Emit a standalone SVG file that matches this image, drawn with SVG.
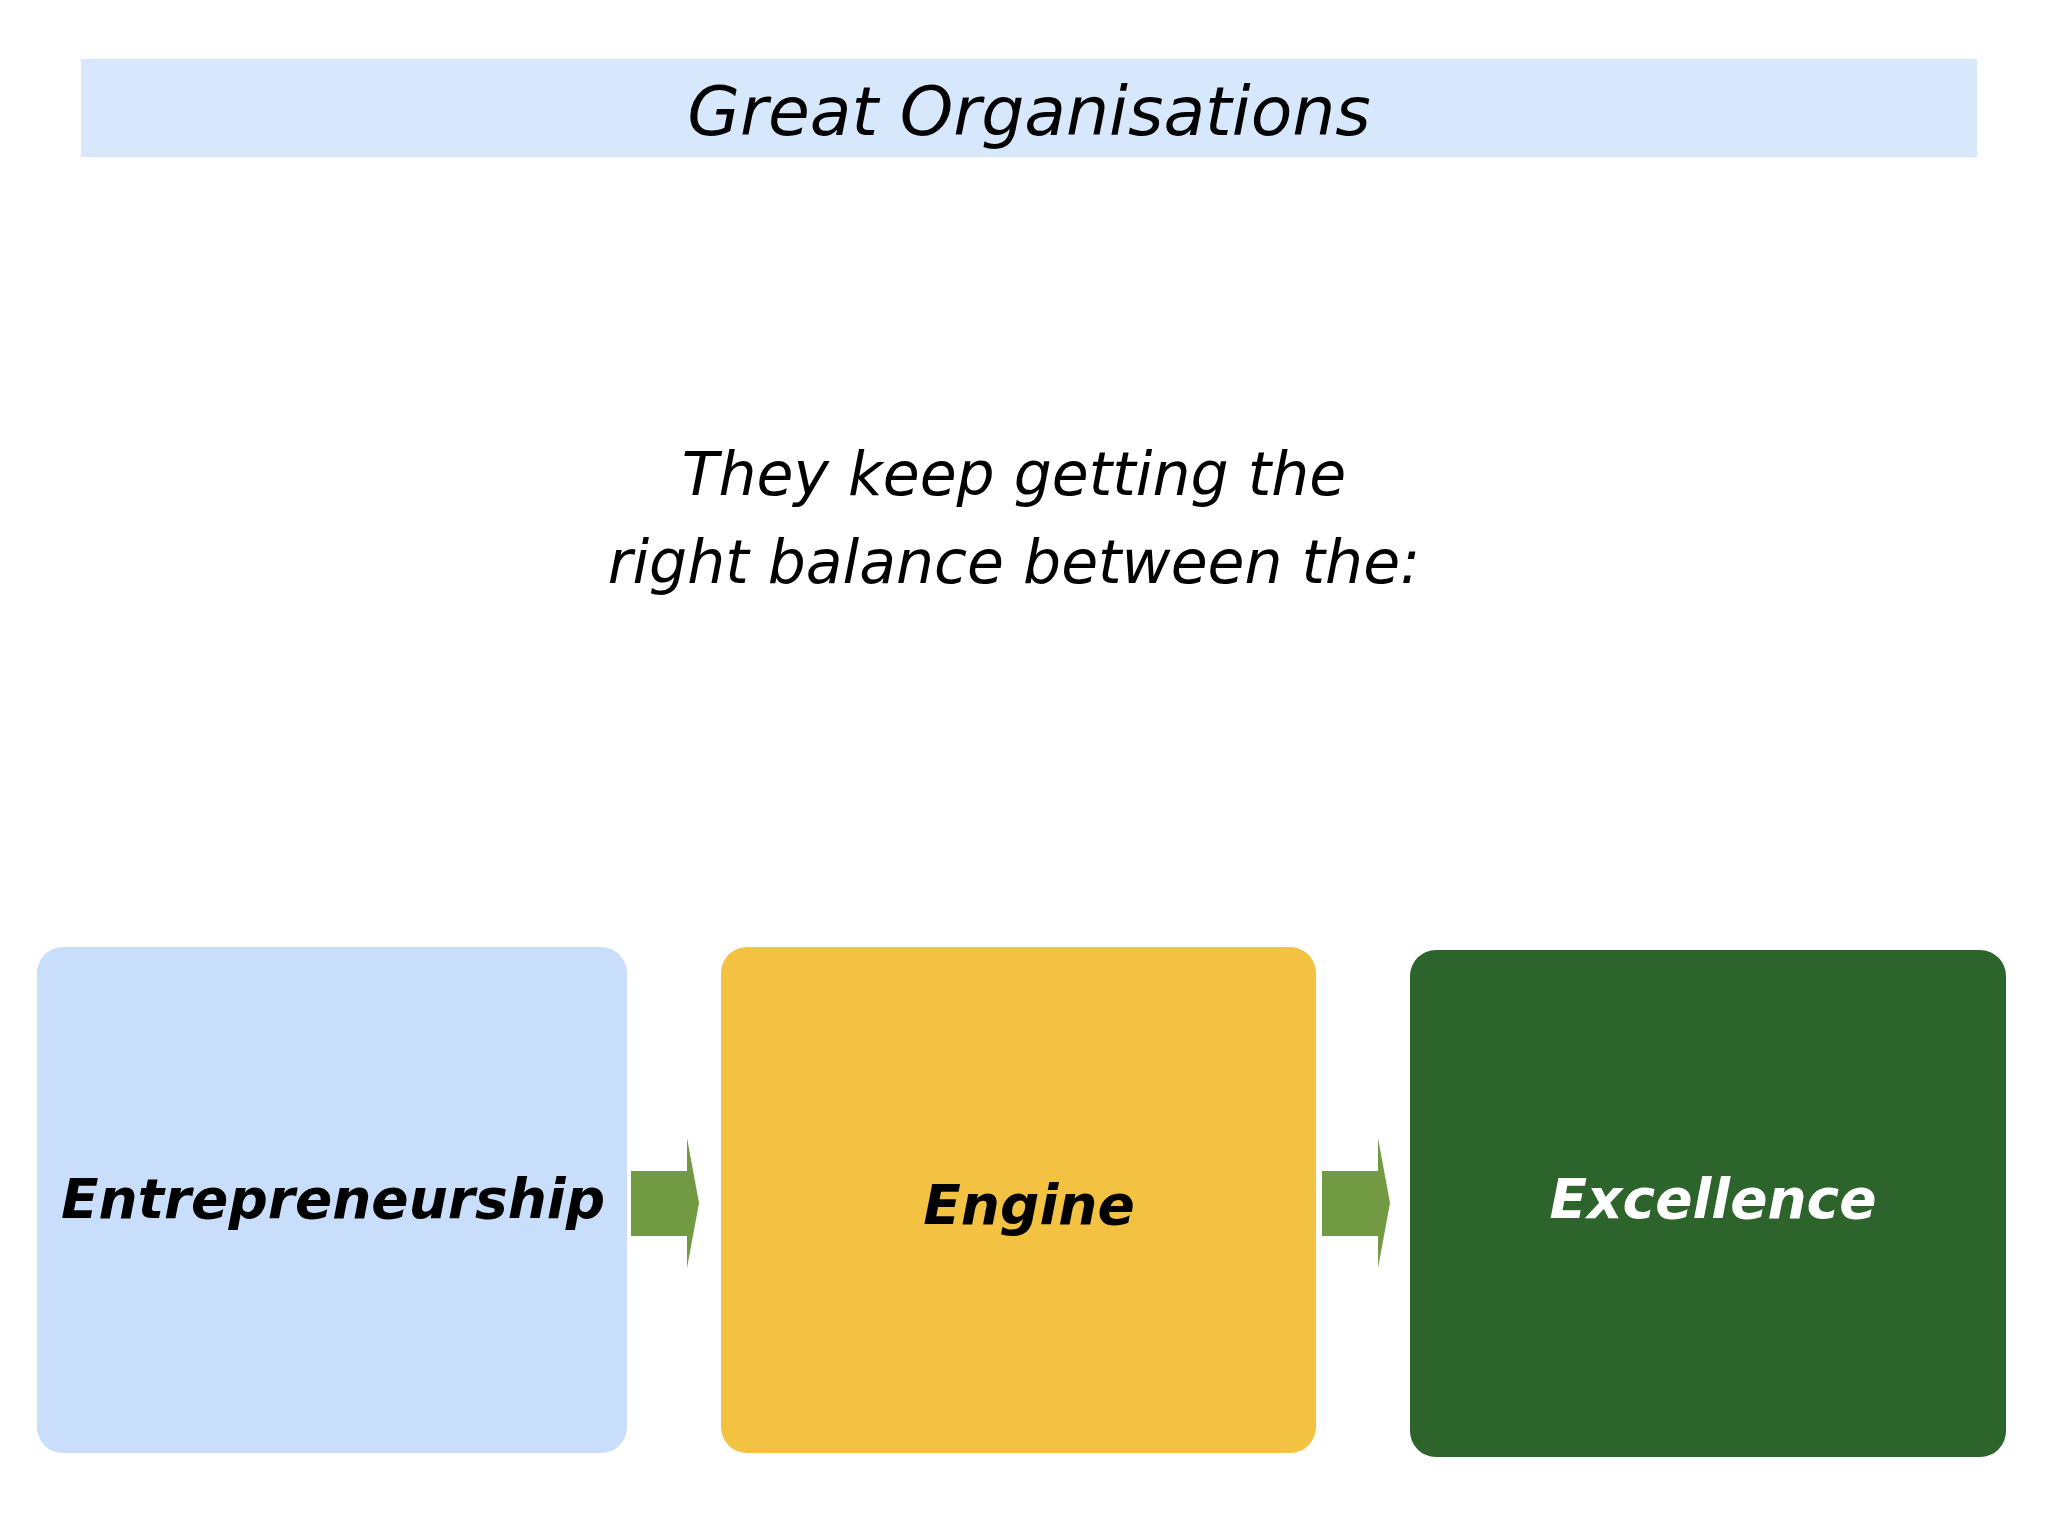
<svg xmlns="http://www.w3.org/2000/svg" width="2048" height="1536" viewBox="0 0 2048 1536">
<style>
.t{font-family:"DejaVu Sans",Verdana,sans-serif;font-style:italic;text-anchor:middle}
.b{font-family:"DejaVu Sans",Verdana,sans-serif;font-style:italic;font-weight:bold;font-size:55px;text-anchor:middle}
.arrow{fill:#719A43}
</style>
<rect width="2048" height="1536" fill="#FFFFFF"/>
<g id="header">
<rect x="81" y="59" width="1896" height="98" fill="#D7E7FC"/>
<text class="t" x="1029" y="135" font-size="68" fill="#000">Great Organisations</text>
</g>
<g id="subtitle">
<text class="t" x="1014" y="495" font-size="60" fill="#000">They keep getting the</text>
<text class="t" x="1014" y="583" font-size="60" fill="#000">right balance between the:</text>
</g>
<g id="node-entrepreneurship">
<rect x="37" y="947" width="590" height="506" rx="26" fill="#C9DEFA"/>
<text class="b" x="333" y="1218" fill="#000">Entrepreneurship</text>
</g>
<g id="node-engine">
<rect x="721" y="947" width="595" height="506" rx="26" fill="#F4C243"/>
<text class="b" x="1029" y="1224" fill="#000">Engine</text>
</g>
<g id="node-excellence">
<rect x="1410" y="950" width="596" height="507" rx="26" fill="#2C642C"/>
<text class="b" x="1713" y="1218" fill="#FFFFFF">Excellence</text>
</g>
<g id="connectors">
<polygon class="arrow" points="631,1171 687,1171 687,1138 699,1203 687,1268 687,1236 631,1236"/>
<polygon class="arrow" points="1322,1171 1378,1171 1378,1138 1390,1203 1378,1268 1378,1236 1322,1236"/>
</g>
</svg>
